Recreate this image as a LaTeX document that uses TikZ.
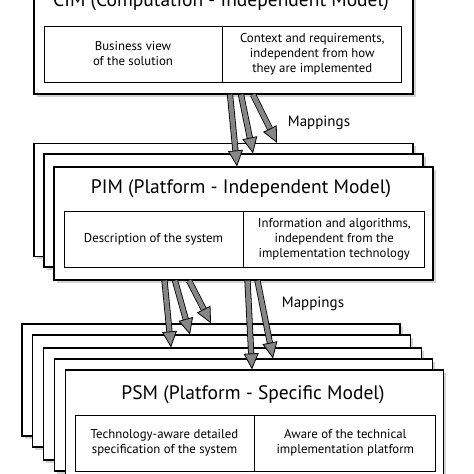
\documentclass[tikz,border=0pt]{standalone}
\usepackage{fontspec}
\setmainfont{PT Sans}
\usetikzlibrary{arrows.meta,positioning,shadows}

\tikzset{
  sheet/.style={draw, fill=white, line width=1.2pt, minimum width=379pt, minimum height=113pt,
    inner sep=0pt, drop shadow={opacity=0.35, shadow xshift=2.5pt, shadow yshift=-2.5pt}},
  cell/.style={draw, line width=0.8pt, minimum height=56pt, inner sep=0pt, align=center,
    font=\fontsize{12.8}{15}\selectfont},
  title/.style={font=\fontsize{19.5}{22}\selectfont},
  maplabel/.style={font=\fontsize{15}{17}\selectfont},
  maparrow/.style={line width=0.8pt, double=gray!95, double distance=4.6pt,
    -{Triangle[length=16pt, width=15pt, fill=gray!95, line width=0.8pt]}}
}

\begin{document}
\begin{tikzpicture}[x=1pt, y=-1pt]
\useasboundingbox (0,0) rectangle (474,474);

% CIM
\node[sheet, minimum height=114pt] (cim) at (223.5,37) {};
\node[title] (cimtitle) at (221,2) {CIM (Computation - Independent Model)};
\node[cell, minimum width=178pt] (cimL) at (133,54) {Business view\\of the solution};
\node[cell, minimum width=179pt, right=0pt of cimL] (cimR) {Context and requirements,\\independent from how\\they are implemented};

% PIM stack
\foreach \n/\x/\y in {pimA/223.5/200, pimB/233.5/210.5, pim/243.5/223.5} {
  \node[sheet] (\n) at (\x,\y) {};
}
\node[title] (pimtitle) at (241,189) {PIM (Platform - Independent Model)};
\node[cell, minimum width=179pt] (pimL) at (153.5,239) {Description of the system};
\node[cell, minimum width=181pt, right=0pt of pimL] (pimR) {Information and algorithms,\\independent from the\\implementation technology};

% PSM stack
\foreach \n/\x/\y in {psmA/211/380, psmB/221.5/391, psmC/232.5/404, psmD/243.5/415, psm/254.5/426} {
  \node[sheet, minimum width=378pt, minimum height=112pt] (\n) at (\x,\y) {};
}
\node[title] (psmtitle) at (253,395) {PSM (Platform - Specific Model)};
\node[cell, minimum width=179pt] (psmL) at (164.5,443) {Technology-aware detailed\\specification of the  system};
\node[cell, minimum width=181pt, right=0pt of psmL] (psmR) {Aware of the technical\\implementation platform};

% mappings
\draw[maparrow] ([xshift=6.5pt]cim.south) -- ([xshift=-6.5pt]pim.north);
\draw[maparrow] ([xshift=17.5pt]cim.south) -- ([xshift=19.5pt]pimB.north);
\draw[maparrow] ([xshift=29.5pt]cim.south) -- ([xshift=53.5pt]pimA.north);
\node[maplabel] (map1) at (319,123) {Mappings};

\draw[maparrow] ([xshift=-79pt]pim.south) -- ([xshift=-61.5pt]psmC.north);
\draw[maparrow] ([xshift=-68.5pt]pim.south) -- ([xshift=-31.5pt]psmB.north);
\draw[maparrow] ([xshift=-54.5pt]pim.south) -- ([xshift=0pt]psmA.north);
\draw[maparrow] ([xshift=4pt]pim.south) -- ([xshift=-2.5pt]psm.north);
\draw[maparrow] ([xshift=14pt]pim.south) -- ([xshift=29.5pt]psmD.north);
\node[maplabel] (map2) at (313,304) {Mappings};
\end{tikzpicture}
\end{document}
